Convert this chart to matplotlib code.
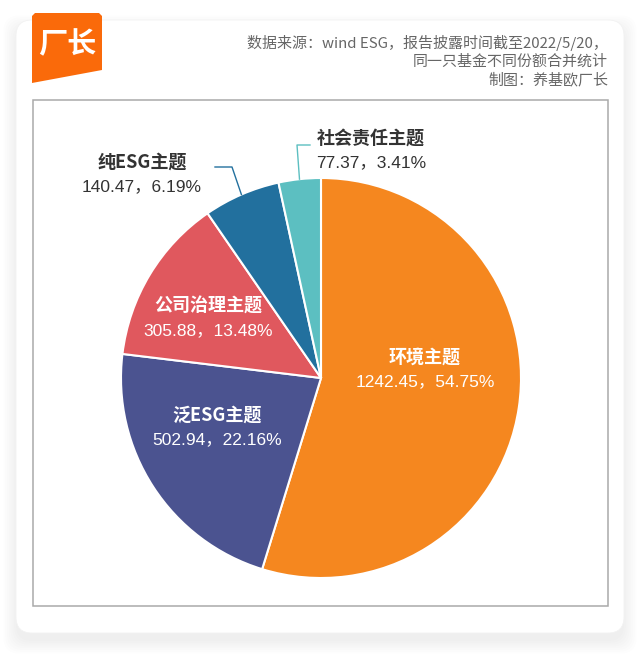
import matplotlib.pyplot as plt
from matplotlib.patches import FancyBboxPatch, Polygon, Rectangle
import numpy as np

plt.rcParams['font.family'] = ['Liberation Sans', 'Noto Sans CJK SC', 'DejaVu Sans']

# data, clockwise from 12 o'clock
names = ['环境主题', '泛ESG主题', '公司治理主题', '纯ESG主题', '社会责任主题']
values = [1242.45, 502.94, 305.88, 140.47, 77.37]
shares = [54.75, 22.16, 13.48, 6.19, 3.41]
colors = ['#F5871F', '#4B5390', '#E0585E', '#22709E', '#5CBFC1']

header = ['数据来源：wind ESG，报告披露时间截至2022/5/20，',
          '同一只基金不同份额合并统计',
          '制图：养基欧厂长']

W, H = 640, 656
fig = plt.figure(figsize=(W / 100, H / 100), dpi=100)
fig.patch.set_facecolor('white')

# background layer in pixel units (card, frame, logo, header)
bg = fig.add_axes([0, 0, 1, 1])
bg.set_xlim(0, W)
bg.set_ylim(H, 0)
bg.axis('off')

# soft shadow under the card
for i in range(8):
    grow = i * 1.8
    bg.add_patch(FancyBboxPatch((30 - grow, 34 - grow + 8), 580 + 2 * grow, 585 + 2 * grow,
                                boxstyle='round,pad=14,rounding_size=16',
                                fc='#000000', ec='none', alpha=0.007, zorder=0))
bg.add_patch(FancyBboxPatch((30, 34), 580, 585, boxstyle='round,pad=14,rounding_size=16',
                            fc='white', ec='#f2f2f2', lw=0.6, zorder=1))
bg.add_patch(Rectangle((32.5, 99.5), 575, 506, fc='white', ec='#aaaaaa', lw=1.1, zorder=2))

# logo
bg.add_patch(Polygon([(32, 16), (35, 13), (99, 13), (102, 16), (102, 70), (32, 83)],
                     closed=True, fc='#FA6A0A', ec='none', zorder=3))
bg.text(67, 44, '厂长', color='white', fontsize=21, fontweight='bold', style='italic',
        ha='center', va='center', family=['Noto Sans CJK SC'], zorder=4)

for i, line in enumerate(header):
    bg.text(608, 43 + i * 18.5, line, color='#666666', fontsize=10.8, ha='right', va='center',
            family=['Noto Sans CJK SC', 'DejaVu Sans'], zorder=4)

# pie
ax = fig.add_axes([121 / W, (H - 578) / H, 400 / W, 400 / H])
wedges, _ = ax.pie(values, colors=colors, startangle=90, counterclock=False, radius=1,
                   wedgeprops=dict(edgecolor='white', linewidth=1.5))
ax.set_xlim(-1, 1)
ax.set_ylim(-1, 1)
ax.axis('off')
ax.set_zorder(5)

# label positions in pie units (radius = 1)
label_pos = [(0.52, 0.105), (-0.52, -0.185), (-0.565, 0.36), (-0.895, 1.08), (0.25, 1.2)]
inside = [True, True, True, False, False]
for name, v, s, (x, y), ins in zip(names, values, shares, label_pos, inside):
    c = 'white' if ins else '#333333'
    ax.text(x, y, name, color=c, fontsize=13, fontweight='bold', ha='center', va='center',
            family=['Noto Sans CJK SC'], clip_on=False)
    ax.text(x, y - 0.125, f'{v:.2f}，{s:.2f}%', color=c, fontsize=12.5, ha='center',
            va='center', family=['Liberation Sans', 'Noto Sans CJK SC'], clip_on=False)

# leader lines for the two small outside slices: (slice, knee x, knee y, end x)
cum = np.cumsum(shares) - np.array(shares) / 2
for idx, kx, ky, ex in [(3, -0.445, 1.055, -0.53), (4, -0.12, 1.165, -0.055)]:
    ang = np.deg2rad(90 - cum[idx] * 3.6)
    px, py = np.cos(ang), np.sin(ang)
    ax.plot([px, kx, ex], [py, ky, ky], color=colors[idx], lw=1, clip_on=False)

fig.savefig('out.png', dpi=100)
